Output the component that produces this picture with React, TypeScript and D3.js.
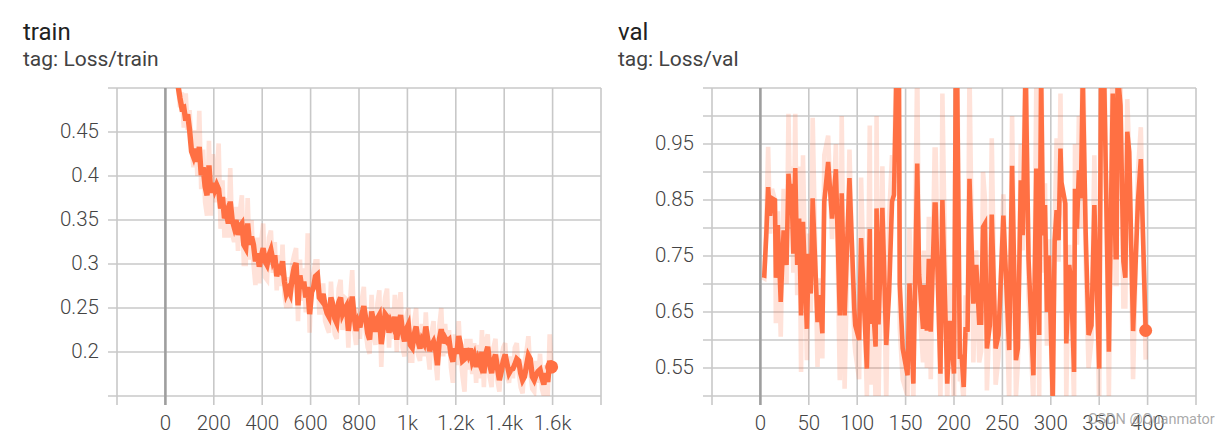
import { useEffect, useRef } from "react"
import * as d3 from "d3"

// logged every 8 steps
const trainSteps = d3.range(52, 1597, 8)
const trainSmooth = [
  0.503, 0.489, 0.477, 0.478, 0.463, 0.47, 0.452, 0.428, 0.422, 0.431,
  0.416, 0.433, 0.401, 0.41, 0.388, 0.378, 0.412, 0.381, 0.392, 0.384,
  0.39, 0.385, 0.363, 0.376, 0.352, 0.358, 0.346, 0.371, 0.35, 0.342,
  0.35, 0.333, 0.343, 0.346, 0.322, 0.318, 0.346, 0.322, 0.331, 0.322,
  0.303, 0.312, 0.297, 0.308, 0.318, 0.303, 0.299, 0.31, 0.316, 0.304,
  0.31, 0.286, 0.295, 0.292, 0.303, 0.28, 0.266, 0.271, 0.266, 0.284,
  0.296, 0.301, 0.253, 0.287, 0.272, 0.28, 0.262, 0.274, 0.243, 0.268,
  0.273, 0.286, 0.288, 0.262, 0.259, 0.266, 0.252, 0.244, 0.24, 0.262,
  0.254, 0.238, 0.233, 0.256, 0.262, 0.243, 0.248, 0.252, 0.224, 0.246,
  0.263, 0.24, 0.224, 0.234, 0.228, 0.243, 0.252, 0.238, 0.221, 0.214,
  0.246, 0.236, 0.223, 0.238, 0.242, 0.209, 0.226, 0.243, 0.24, 0.222,
  0.234, 0.229, 0.24, 0.214, 0.232, 0.242, 0.222, 0.212, 0.226, 0.231,
  0.208, 0.205, 0.22, 0.229, 0.212, 0.204, 0.214, 0.21, 0.229, 0.214,
  0.201, 0.208, 0.212, 0.204, 0.185, 0.214, 0.226, 0.21, 0.216, 0.212,
  0.214, 0.197, 0.189, 0.204, 0.198, 0.218, 0.208, 0.19, 0.192, 0.204,
  0.197, 0.204, 0.19, 0.196, 0.183, 0.192, 0.186, 0.2, 0.176, 0.198,
  0.206, 0.186, 0.176, 0.19, 0.197, 0.182, 0.168, 0.178, 0.19, 0.197,
  0.186, 0.176, 0.18, 0.181, 0.186, 0.192, 0.19, 0.176, 0.168, 0.172,
  0.184, 0.196, 0.192, 0.172, 0.168, 0.174, 0.178, 0.18, 0.17, 0.163,
  0.176, 0.166, 0.19, 0.183,
]
const trainRaw = [
  0.505, 0.478, 0.495, 0.455, 0.494, 0.452, 0.475, 0.432, 0.41, 0.452,
  0.4, 0.474, 0.385, 0.43, 0.37, 0.355, 0.44, 0.355, 0.425, 0.37,
  0.4, 0.437, 0.34, 0.395, 0.33, 0.375, 0.33, 0.409, 0.335, 0.325,
  0.365, 0.315, 0.36, 0.378, 0.3, 0.3, 0.375, 0.305, 0.35, 0.3,
  0.276, 0.33, 0.278, 0.325, 0.346, 0.285, 0.282, 0.33, 0.338, 0.29,
  0.325, 0.27, 0.31, 0.275, 0.322, 0.265, 0.25, 0.285, 0.25, 0.3,
  0.31, 0.318, 0.235, 0.305, 0.258, 0.295, 0.245, 0.335, 0.222, 0.285,
  0.29, 0.303, 0.303, 0.245, 0.245, 0.278, 0.235, 0.228, 0.222, 0.28,
  0.242, 0.22, 0.215, 0.272, 0.282, 0.225, 0.262, 0.26, 0.205, 0.262,
  0.293, 0.225, 0.208, 0.25, 0.215, 0.26, 0.274, 0.222, 0.205, 0.198,
  0.265, 0.22, 0.208, 0.255, 0.27, 0.183, 0.24, 0.262, 0.272, 0.205,
  0.25, 0.215, 0.265, 0.2, 0.25, 0.268, 0.205, 0.195, 0.24, 0.25,
  0.19, 0.19, 0.235, 0.25, 0.197, 0.19, 0.232, 0.195, 0.245, 0.2,
  0.18, 0.222, 0.235, 0.19, 0.168, 0.23, 0.25, 0.195, 0.232, 0.198,
  0.225, 0.182, 0.165, 0.22, 0.185, 0.235, 0.195, 0.172, 0.155, 0.215,
  0.18, 0.215, 0.175, 0.21, 0.165, 0.208, 0.17, 0.225, 0.16, 0.212,
  0.22, 0.172, 0.16, 0.205, 0.215, 0.168, 0.155, 0.192, 0.205, 0.21,
  0.172, 0.165, 0.195, 0.17, 0.205, 0.21, 0.176, 0.16, 0.153, 0.188,
  0.2, 0.218, 0.176, 0.158, 0.155, 0.19, 0.165, 0.198, 0.158, 0.15,
  0.185, 0.15, 0.22, 0.175,
]

const valSteps = [
  2, 4, 6, 8, 10, 12, 15, 16, 18, 21,
  24, 27, 29, 31, 32, 34, 36, 38, 40, 42,
  44, 48, 50, 52, 54, 59, 61, 64, 66, 70,
  74, 78, 82, 84, 87, 92, 97, 98, 102, 104,
  110, 113, 114, 116, 119, 120, 122, 126, 130, 133,
  136, 138, 141, 143, 144, 147, 152, 154, 158, 162,
  164, 168, 169, 172, 174, 176, 180, 181, 186, 188,
  193, 196, 200, 202, 203, 206, 208, 210, 212, 214,
  216, 220, 223, 226, 228, 230, 232, 234, 237, 239,
  243, 246, 251, 257, 260, 264, 266, 269, 271, 274,
  277, 282, 285, 288, 290, 292, 294, 296, 298, 302,
  304, 306, 308, 310, 311, 315, 316, 319, 321, 324,
  325, 327, 329, 331, 333, 336, 339, 342, 345, 350,
  352, 355, 360, 364, 367, 368, 369, 372, 375, 377,
  379, 381, 385, 390, 393, 398,
]
const valSmooth = [
  0.716, 0.715, 0.784, 0.873, 0.822, 0.853, 0.85, 0.711, 0.805, 0.668,
  0.796, 0.734, 0.897, 0.85, 0.879, 0.754, 0.907, 0.734, 0.817, 0.644,
  0.811, 0.62, 0.754, 0.683, 0.853, 0.632, 0.68, 0.612, 0.847, 0.918,
  0.817, 0.905, 0.644, 0.862, 0.644, 0.889, 0.656, 0.626, 0.6, 0.782,
  0.549, 0.798, 0.629, 0.671, 0.588, 0.835, 0.628, 0.836, 0.591, 0.687,
  0.847, 0.859, 1.115, 1.115, 0.698, 0.585, 0.537, 0.701, 0.522, 0.915,
  0.716, 0.62, 0.698, 0.617, 0.745, 0.615, 0.842, 0.842, 0.54, 0.85,
  0.522, 0.634, 0.54, 1.115, 1.115, 0.57, 0.57, 0.516, 0.623, 0.615,
  0.888, 0.665, 0.734, 0.631, 0.631, 0.802, 0.808, 0.585, 0.626, 0.824,
  0.585, 0.609, 0.822, 0.582, 0.911, 0.564, 0.585, 0.885, 0.787, 1.085,
  0.745, 0.537, 0.906, 0.609, 1.073, 0.787, 0.841, 0.65, 0.751, 0.495,
  0.778, 0.832, 0.778, 0.942, 0.882, 0.844, 0.594, 0.734, 0.704, 0.543,
  0.87, 0.799, 0.903, 0.853, 1.067, 0.793, 0.609, 0.626, 0.841, 0.549,
  1.091, 1.085, 0.579, 1.04, 0.748, 0.748, 1.08, 1.019, 0.74, 0.711,
  0.972, 0.936, 0.616, 0.847, 0.923, 0.617,
]
const valRaw = [
  0.712, 0.71, 0.8, 0.945, 0.79, 0.87, 0.85, 0.63, 0.83, 0.606,
  0.87, 0.7, 1.004, 0.8, 0.91, 0.72, 1.004, 0.68, 0.91, 0.543,
  0.93, 0.564, 0.79, 0.65, 0.997, 0.552, 0.71, 0.567, 0.93, 0.965,
  0.78, 0.95, 0.528, 1.0, 0.513, 0.94, 0.6, 0.579, 0.53, 0.89,
  0.5, 0.983, 0.52, 0.7, 0.49, 1.0, 0.49, 0.91, 0.49, 0.82,
  0.93, 0.88, 1.2, 1.2, 0.62, 0.53, 0.5, 0.8, 0.49, 1.1,
  0.67, 0.56, 0.76, 0.55, 0.82, 0.53, 0.94, 0.94, 0.49, 1.04,
  0.49, 0.7, 0.49, 1.2, 1.2, 0.53, 0.53, 0.49, 0.68, 0.6,
  1.08, 0.56, 0.76, 0.56, 0.58, 0.9, 0.85, 0.51, 0.66, 0.96,
  0.52, 0.57, 0.86, 0.49, 1.0, 0.5, 0.56, 0.95, 0.76, 1.2,
  0.68, 0.49, 1.05, 0.5, 1.2, 0.72, 0.88, 0.59, 0.78, 0.45,
  0.8, 0.96, 0.74, 1.04, 0.86, 0.8, 0.5, 0.77, 0.68, 0.49,
  0.95, 0.77, 1.0, 0.8, 1.2, 0.74, 0.55, 0.6, 0.93, 0.48,
  1.2, 1.15, 0.5, 1.15, 0.7, 0.7, 1.2, 1.06, 0.66, 0.66,
  1.03, 0.93, 0.53, 0.9, 0.98, 0.565,
]

const trainXTicks = [-200, 0, 200, 400, 600, 800, 1000, 1200, 1400, 1600, 1800]
const trainYGrid = [0.15, 0.2, 0.25, 0.3, 0.35, 0.4, 0.45, 0.5]
const trainYLabels = [0.2, 0.25, 0.3, 0.35, 0.4, 0.45]
const valXTicks = [-50, 0, 50, 100, 150, 200, 250, 300, 350, 400, 450]
const valYGrid = [0.5, 0.55, 0.6, 0.65, 0.7, 0.75, 0.8, 0.85, 0.9, 0.95, 1, 1.05]
const valYLabels = [0.55, 0.65, 0.75, 0.85, 0.95]

const ORANGE = "#ff7043"

interface PanelProps {
  id: string
  title: string
  tag: string
  left: number
  right: number
  textX: number
  lineWidth: number
  xDomain: [number, number]
  yDomain: [number, number]
  xTicks: number[]
  yGrid: number[]
  yLabels: number[]
  steps: number[]
  smooth: number[]
  raw: number[]
}

const Panel = (p: PanelProps) => {
  const ref = useRef<SVGGElement | null>(null)

  useEffect(() => {
    const top = 88
    const bottom = 396
    const x = d3.scaleLinear().domain(p.xDomain).range([p.left, p.right])
    const y = d3.scaleLinear().domain(p.yDomain).range([bottom, top])

    const g = d3.select(ref.current)
    g.selectAll("*").remove()

    g.append("text")
      .attr("x", p.textX)
      .attr("y", 40)
      .attr("font-size", 24)
      .attr("fill", "#212121")
      .text(p.title)
    g.append("text")
      .attr("x", p.textX)
      .attr("y", 66)
      .attr("font-size", 21)
      .attr("fill", "#424242")
      .text(p.tag)

    // Grid
    g.selectAll(".hgrid")
      .data(p.yGrid)
      .enter()
      .append("line")
      .attr("x1", p.left - 9)
      .attr("x2", p.right)
      .attr("y1", (d) => y(d))
      .attr("y2", (d) => y(d))
      .attr("stroke", "#c8c8c8")
      .attr("stroke-width", 1.6)

    g.selectAll(".vgrid")
      .data(p.xTicks)
      .enter()
      .append("line")
      .attr("x1", (d) => x(d))
      .attr("x2", (d) => x(d))
      .attr("y1", top)
      .attr("y2", bottom + 9)
      .attr("stroke", (d) => (d === 0 ? "#9e9e9e" : "#c8c8c8"))
      .attr("stroke-width", (d) => (d === 0 ? 2.6 : 1.6))

    // Tick labels
    g.selectAll(".ylab")
      .data(p.yLabels)
      .enter()
      .append("text")
      .attr("x", p.left - 18)
      .attr("y", (d) => y(d) + 6)
      .attr("text-anchor", "end")
      .attr("font-size", 20.5)
      .attr("font-weight", 300)
      .attr("fill", "#444")
      .text((d) => String(d))

    g.selectAll(".xlab")
      .data(p.xTicks.slice(1, -1))
      .enter()
      .append("text")
      .attr("x", (d) => x(d))
      .attr("y", 430)
      .attr("text-anchor", "middle")
      .attr("font-size", 20.5)
      .attr("font-weight", 300)
      .attr("fill", "#444")
      .text((d) => d3.format("~s")(d))

    // Lines, clipped to the plot
    const clipId = `clip-${p.id}`
    g.append("clipPath")
      .attr("id", clipId)
      .append("rect")
      .attr("x", p.left)
      .attr("y", top)
      .attr("width", p.right - p.left)
      .attr("height", bottom - top)

    const line = d3
      .line<number>()
      .x((_, i) => x(p.steps[i]))
      .y((d) => y(d))

    g.append("path")
      .datum(p.raw)
      .attr("clip-path", `url(#${clipId})`)
      .attr("fill", "none")
      .attr("stroke", ORANGE)
      .attr("stroke-opacity", 0.2)
      .attr("stroke-width", 4.6)
      .attr("d", line)

    g.append("path")
      .datum(p.smooth)
      .attr("clip-path", `url(#${clipId})`)
      .attr("fill", "none")
      .attr("stroke", ORANGE)
      .attr("stroke-width", p.lineWidth)
      .attr("d", line)

    const last = p.steps.length - 1
    g.append("circle")
      .attr("cx", x(p.steps[last]))
      .attr("cy", y(p.smooth[last]))
      .attr("r", 6.5)
      .attr("fill", ORANGE)
  }, [])

  return <g ref={ref} />
}

export default function App() {
  return (
    <svg
      width={1230}
      height={436}
      style={{ position: "absolute", left: 0, top: 0, fontFamily: "Roboto", background: "#fff" }}
    >
      <Panel
        id="train"
        title="train"
        tag="tag: Loss/train"
        left={117}
        right={601}
        textX={23}
        lineWidth={5.4}
        xDomain={[-200, 1800]}
        yDomain={[0.15, 0.5]}
        xTicks={trainXTicks}
        yGrid={trainYGrid}
        yLabels={trainYLabels}
        steps={trainSteps}
        smooth={trainSmooth}
        raw={trainRaw}
      />
      <Panel
        id="val"
        title="val"
        tag="tag: Loss/val"
        left={712}
        right={1196}
        textX={618}
        lineWidth={4.6}
        xDomain={[-50, 450]}
        yDomain={[0.5, 1.05]}
        xTicks={valXTicks}
        yGrid={valYGrid}
        yLabels={valYLabels}
        steps={valSteps}
        smooth={valSmooth}
        raw={valRaw}
      />
      <text x={1088} y={424} fontSize={14.5} fill="#9a9a9a" fillOpacity={0.85}>
        CSDN @Quanmator
      </text>
    </svg>
  )
}
